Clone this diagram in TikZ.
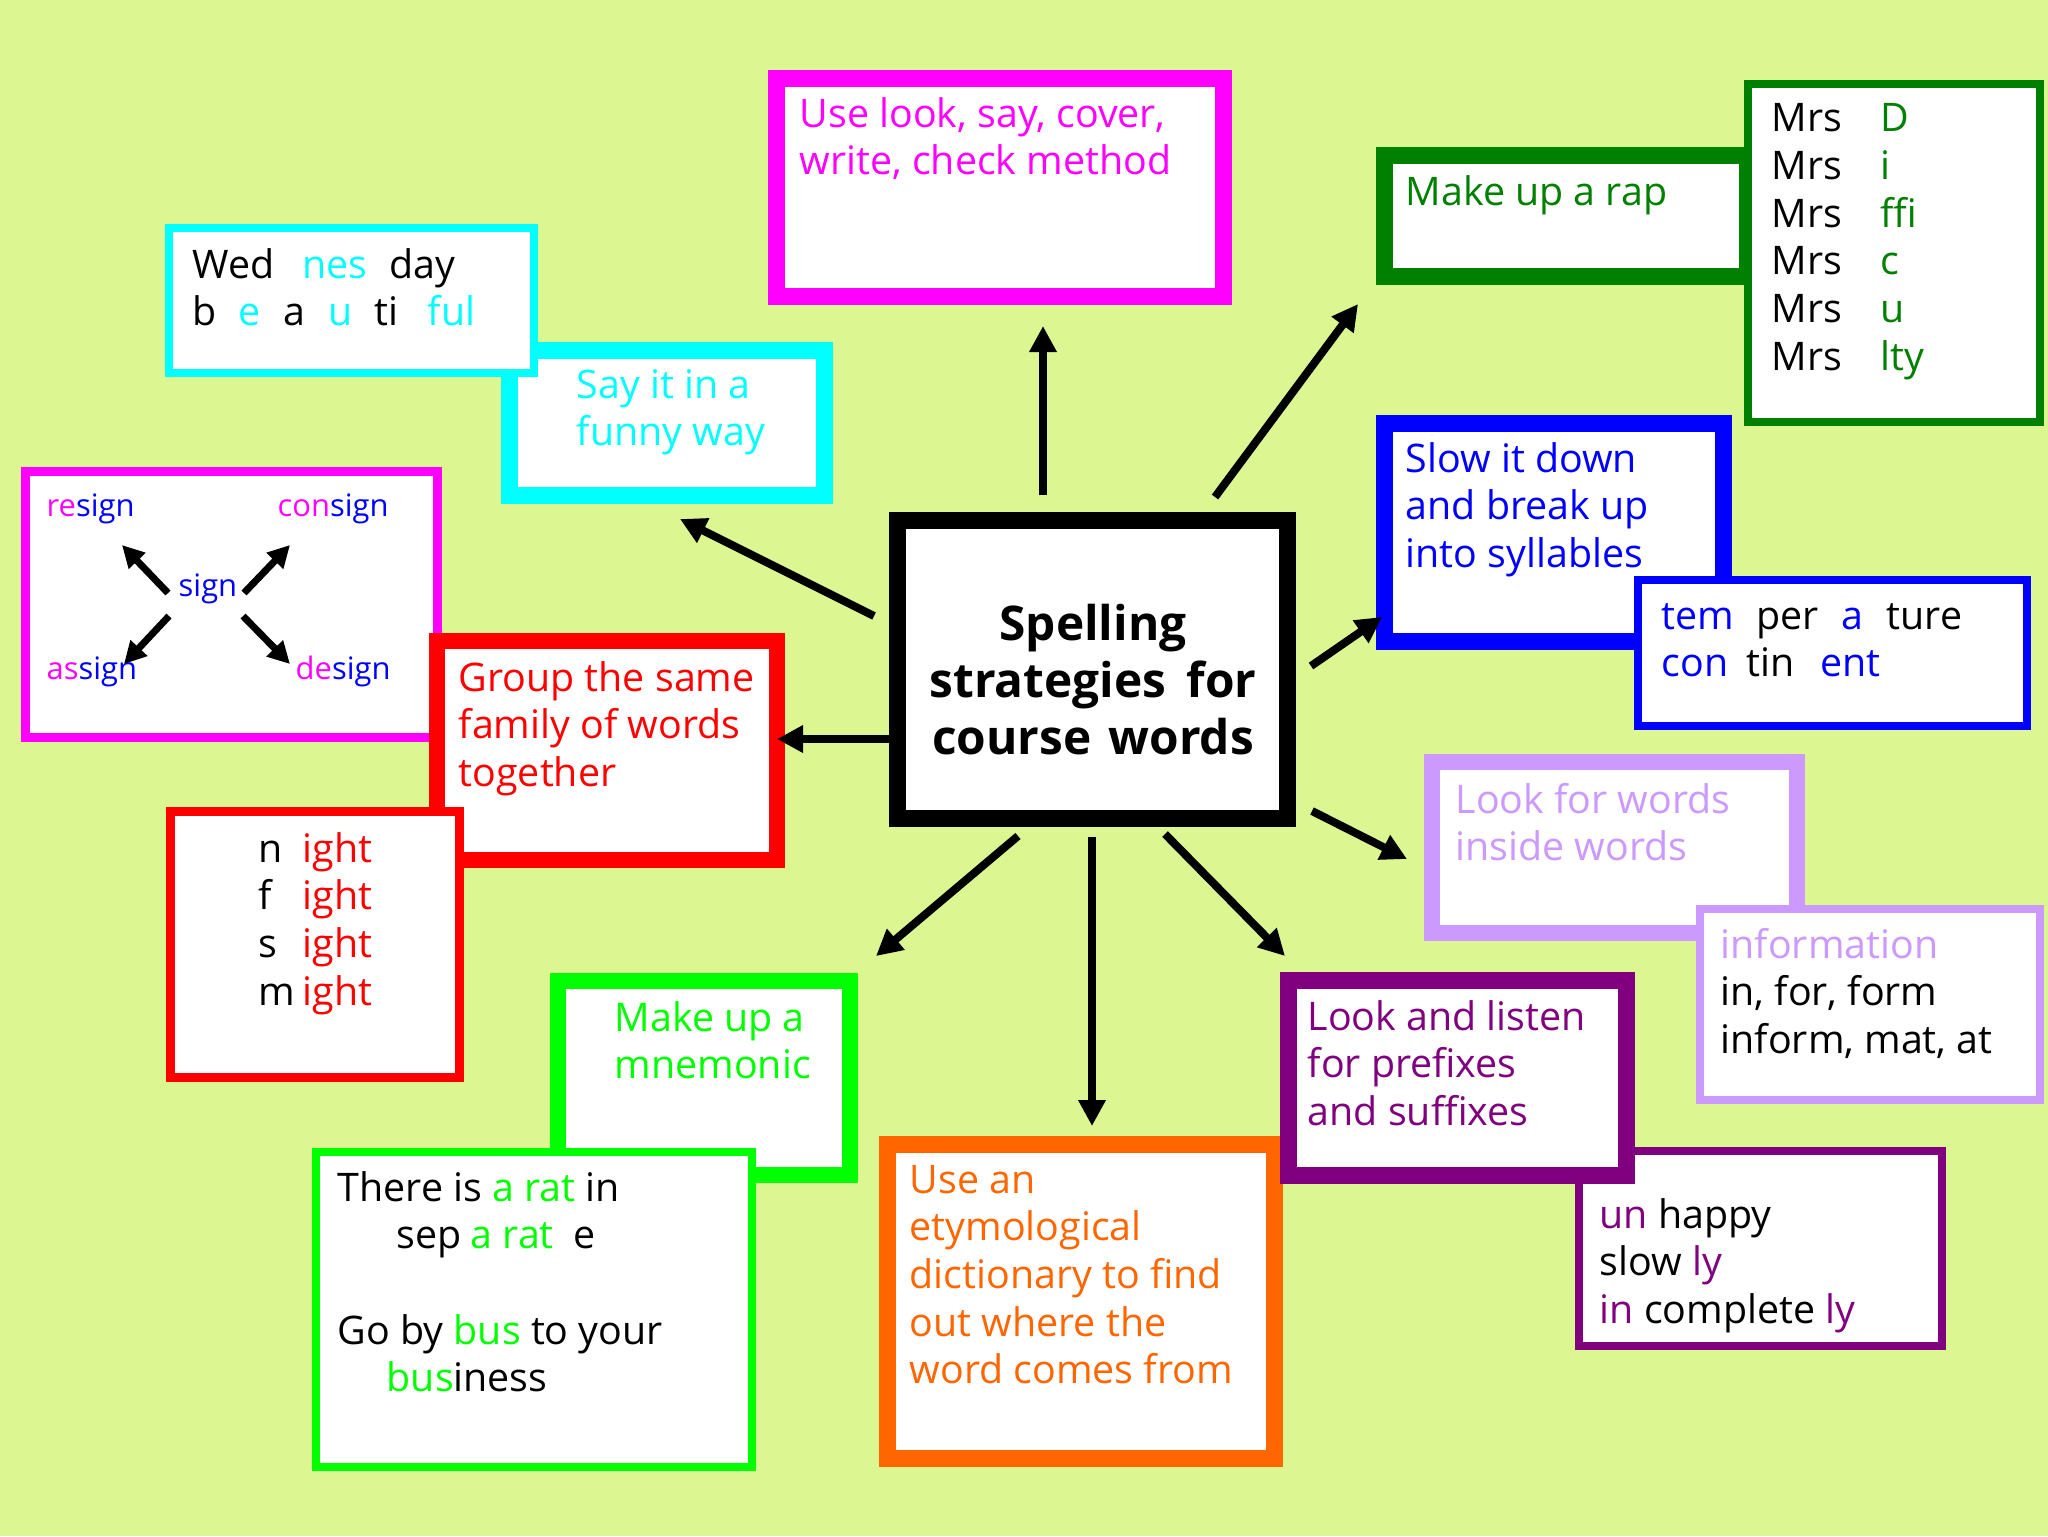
\documentclass[tikz,border=0pt]{standalone}
\usepackage{fontspec}
\setmainfont{Open Sans}
\usetikzlibrary{arrows.meta}

\definecolor{bg}{RGB}{220,247,146}
\definecolor{mag}{RGB}{255,0,255}
\definecolor{cyn}{RGB}{0,255,255}
\definecolor{rd}{RGB}{255,0,0}
\definecolor{lime}{RGB}{0,255,0}
\definecolor{orng}{RGB}{255,102,0}
\definecolor{purp}{RGB}{128,0,128}
\definecolor{lav}{RGB}{204,153,255}
\definecolor{dgreen}{RGB}{0,128,0}
\definecolor{blu}{RGB}{0,0,255}

\newlength\pxu \setlength\pxu{0.1mm}
\newcommand\boxlines[1]{\vtop{\baselineskip=47.7\pxu\lineskiplimit=-\maxdimen\halign{##\hfil\cr#1\crcr}}}
\newcommand\centrelines[1]{\vtop{\baselineskip=57\pxu\lineskiplimit=-\maxdimen\halign{\hfil##\hfil\cr#1\crcr}}}
\newcommand\wcell[2]{\makebox[#1\pxu][l]{#2}}

\tikzset{
  card/.style={draw=#1, fill=white, inner sep=0pt},
  txt/.style={anchor=base west, inner sep=0pt, font=\fontsize{11.2}{13.5}\selectfont},
  signtxt/.style={anchor=base west, inner sep=0pt, font=\fontsize{8.8}{10.5}\selectfont},
  arr/.style={line width=0.8mm, -{Triangle[length=2.6mm,width=2.6mm]}},
  tinyarr/.style={line width=0.7mm, -{Triangle[length=2.2mm,width=2.2mm]}}
}

\begin{document}
\begin{tikzpicture}[x=0.1mm, y=-0.1mm]
  \useasboundingbox (0,0) rectangle (2048,1536);
  \fill[bg] (0,0) rectangle (2048,1536);

  % boxes
  \node[card=mag, line width=1.7mm, minimum width=44.7mm, minimum height=21.8mm] (look) at (1000,187.5) {};
  \node[card=cyn, line width=1.7mm, minimum width=31.5mm, minimum height=14.5mm] (say) at (667,423) {};
  \node[card=cyn, line width=0.8mm, minimum width=36.5mm, minimum height=14.5mm] (wed) at (351.5,300.5) {};
  \node[card=mag, line width=0.9mm, minimum width=41.2mm, minimum height=26.6mm] (family) at (231.5,604.5) {};
  \node[card=rd, line width=1.6mm, minimum width=34.0mm, minimum height=21.9mm] (group) at (607,750.5) {};
  \node[card=rd, line width=0.9mm, minimum width=28.9mm, minimum height=26.6mm] (night) at (315,944.5) {};
  \node[card=lime, line width=1.6mm, minimum width=29.2mm, minimum height=19.4mm] (mnem) at (704,1078) {};
  \node[card=lime, line width=0.8mm, minimum width=43.6mm, minimum height=31.5mm] (rat) at (534,1309.5) {};
  \node[card=orng, line width=1.7mm, minimum width=38.7mm, minimum height=31.4mm] (etym) at (1081,1301.5) {};
  \node[card=purp, line width=0.8mm, minimum width=36.3mm, minimum height=19.5mm] (happy) at (1760.5,1248.5) {};
  \node[card=purp, line width=1.7mm, minimum width=33.8mm, minimum height=19.5mm] (listen) at (1457.5,1078) {};
  \node[card=lav, line width=1.6mm, minimum width=36.5mm, minimum height=17.1mm] (inside) at (1614.5,847.5) {};
  \node[card=lav, line width=0.8mm, minimum width=34.0mm, minimum height=19.1mm] (info) at (1870,1004.5) {};
  \node[card=dgreen, line width=1.7mm, minimum width=36.3mm, minimum height=12.1mm] (rap) at (1566,216) {};
  \node[card=dgreen, line width=0.8mm, minimum width=29.2mm, minimum height=33.8mm] (mrs) at (1894,253) {};
  \node[card=blu, line width=1.7mm, minimum width=33.9mm, minimum height=21.8mm] (slow) at (1554,532.5) {};
  \node[card=blu, line width=0.8mm, minimum width=38.9mm, minimum height=14.6mm] (tem) at (1832.5,653) {};
  \node[card=black, line width=1.7mm, minimum width=39.0mm, minimum height=29.8mm] (centre) at (1092.5,669.5) {};

  % texts
  \node[anchor=base, inner sep=0pt, font=\bfseries\fontsize{13.6}{16}\selectfont] (title) at (1093,640)
    {\centrelines{Spelling\cr strategies\hspace{0.8mm} for\cr course\hspace{0.5mm} words}};
  \node[txt, text=mag] (lookT) at (799,127) {\boxlines{Use look, say, cover,\cr write, check method}};
  \node[txt] (wedT) at (192,278) {\boxlines{%
    \wcell{110}{Wed}\wcell{87}{\textcolor{cyn}{nes}}day\cr
    \wcell{46}{b}\wcell{45}{\textcolor{cyn}{e}}\wcell{45}{a}\wcell{46}{\textcolor{cyn}{u}}\wcell{53}{ti}\textcolor{cyn}{ful}}};
  \node[txt, text=cyn] (sayT) at (576,398) {\boxlines{Say it in a\cr funny way}};
  \node[signtxt] (resign) at (46,516) {\textcolor{mag}{re}\textcolor{blu}{sign}};
  \node[signtxt] (consign) at (277,516) {\textcolor{mag}{con}\textcolor{blu}{sign}};
  \node[signtxt, text=blu] (sign) at (178,596) {sign};
  \node[signtxt] (assign) at (46,679) {\textcolor{mag}{as}\textcolor{blu}{sign}};
  \node[signtxt] (design) at (295,679) {\textcolor{mag}{de}\textcolor{blu}{sign}};
  \node[txt, text=rd] (groupT) at (458,691) {\boxlines{Group the same\cr family of words\cr together}};
  \node[txt] (nightT) at (258,862) {\boxlines{%
    \wcell{44}{n}\textcolor{rd}{ight}\cr \wcell{44}{f}\textcolor{rd}{ight}\cr
    \wcell{44}{s}\textcolor{rd}{ight}\cr \wcell{44}{m}\textcolor{rd}{ight}}};
  \node[txt, text=lime] (mnemT) at (614,1031) {\boxlines{Make up a\cr mnemonic}};
  \node[txt] (ratT) at (337,1201) {\boxlines{%
    There is \textcolor{lime}{a rat} in\cr
    \hspace*{59\pxu}\wcell{74}{sep}\wcell{103}{\textcolor{lime}{a rat}}e\cr
    \cr
    Go by \textcolor{lime}{bus} to your\cr
    \hspace*{49\pxu}\textcolor{lime}{bus}iness}};
  \node[txt, text=orng] (etymT) at (909,1193) {\boxlines{Use an\cr etymological\cr dictionary to find\cr out where the\cr word comes from}};
  \node[txt, text=purp] (listenT) at (1307,1030) {\boxlines{Look and listen\cr for prefixes\cr and suffixes}};
  \node[txt] (happyT) at (1599,1228) {\boxlines{%
    \textcolor{purp}{un} happy\cr slow \textcolor{purp}{ly}\cr
    \textcolor{purp}{in} complete \textcolor{purp}{ly}}};
  \node[txt, text=lav] (insideT) at (1455,813) {\boxlines{Look for words\cr inside words}};
  \node[txt] (infoT) at (1720,958) {\boxlines{\textcolor{lav}{information}\cr in, for, form\cr inform, mat, at}};
  \node[txt, text=dgreen] (rapT) at (1405,205) {Make up a rap};
  \node[txt] (mrsT) at (1771,131.6) {\boxlines{%
    \wcell{109}{Mrs}\textcolor{dgreen}{D}\cr \wcell{109}{Mrs}\textcolor{dgreen}{i}\cr
    \wcell{109}{Mrs}\textcolor{dgreen}{ffi}\cr \wcell{109}{Mrs}\textcolor{dgreen}{c}\cr
    \wcell{109}{Mrs}\textcolor{dgreen}{u}\cr \wcell{109}{Mrs}\textcolor{dgreen}{lty}}};
  \node[txt, text=blu] (slowT) at (1405,472) {\boxlines{Slow it down\cr and break up\cr into syllables}};
  \node[txt] (temT) at (1661,629) {\boxlines{%
    \wcell{95}{\textcolor{blu}{tem}}\wcell{85}{per}\wcell{45}{\textcolor{blu}{a}}ture\cr
    \wcell{85}{\textcolor{blu}{con}}\wcell{74}{tin}\textcolor{blu}{ent}}};

  % arrows from the centre
  \coordinate (s1) at (1043,495);  \coordinate (e1) at (1043,326);
  \coordinate (s2) at (1215,497);  \coordinate (e2) at (1358,304);
  \coordinate (s3) at (874,616);   \coordinate (e3) at (680,519);
  \coordinate (s4) at (889,739);   \coordinate (e4) at (777,739);
  \coordinate (s5) at (1311,666);  \coordinate (e5) at (1382,617);
  \coordinate (s6) at (1312,811);  \coordinate (e6) at (1407,859);
  \coordinate (s7) at (1018,836);  \coordinate (e7) at (876,956);
  \coordinate (s8) at (1092,837);  \coordinate (e8) at (1092,1126);
  \coordinate (s9) at (1165,834);  \coordinate (e9) at (1285,956);
  \draw[arr] (s1) -- (e1);
  \draw[arr] (s2) -- (e2);
  \draw[arr] (s3) -- (e3);
  \draw[arr] (s4) -- (e4);
  \draw[arr] (s5) -- (e5);
  \draw[arr] (s6) -- (e6);
  \draw[arr] (s7) -- (e7);
  \draw[arr] (s8) -- (e8);
  \draw[arr] (s9) -- (e9);

  % arrows round sign
  \coordinate (nw) at (168,593);  \coordinate (nwT) at (122,545);
  \coordinate (ne) at (244,593);  \coordinate (neT) at (290,545);
  \coordinate (sw) at (169,616);  \coordinate (swT) at (124,664);
  \coordinate (se) at (243,616);  \coordinate (seT) at (290,664);
  \draw[tinyarr] (nw) -- (nwT);
  \draw[tinyarr] (ne) -- (neT);
  \draw[tinyarr] (sw) -- (swT);
  \draw[tinyarr] (se) -- (seT);
\end{tikzpicture}
\end{document}
